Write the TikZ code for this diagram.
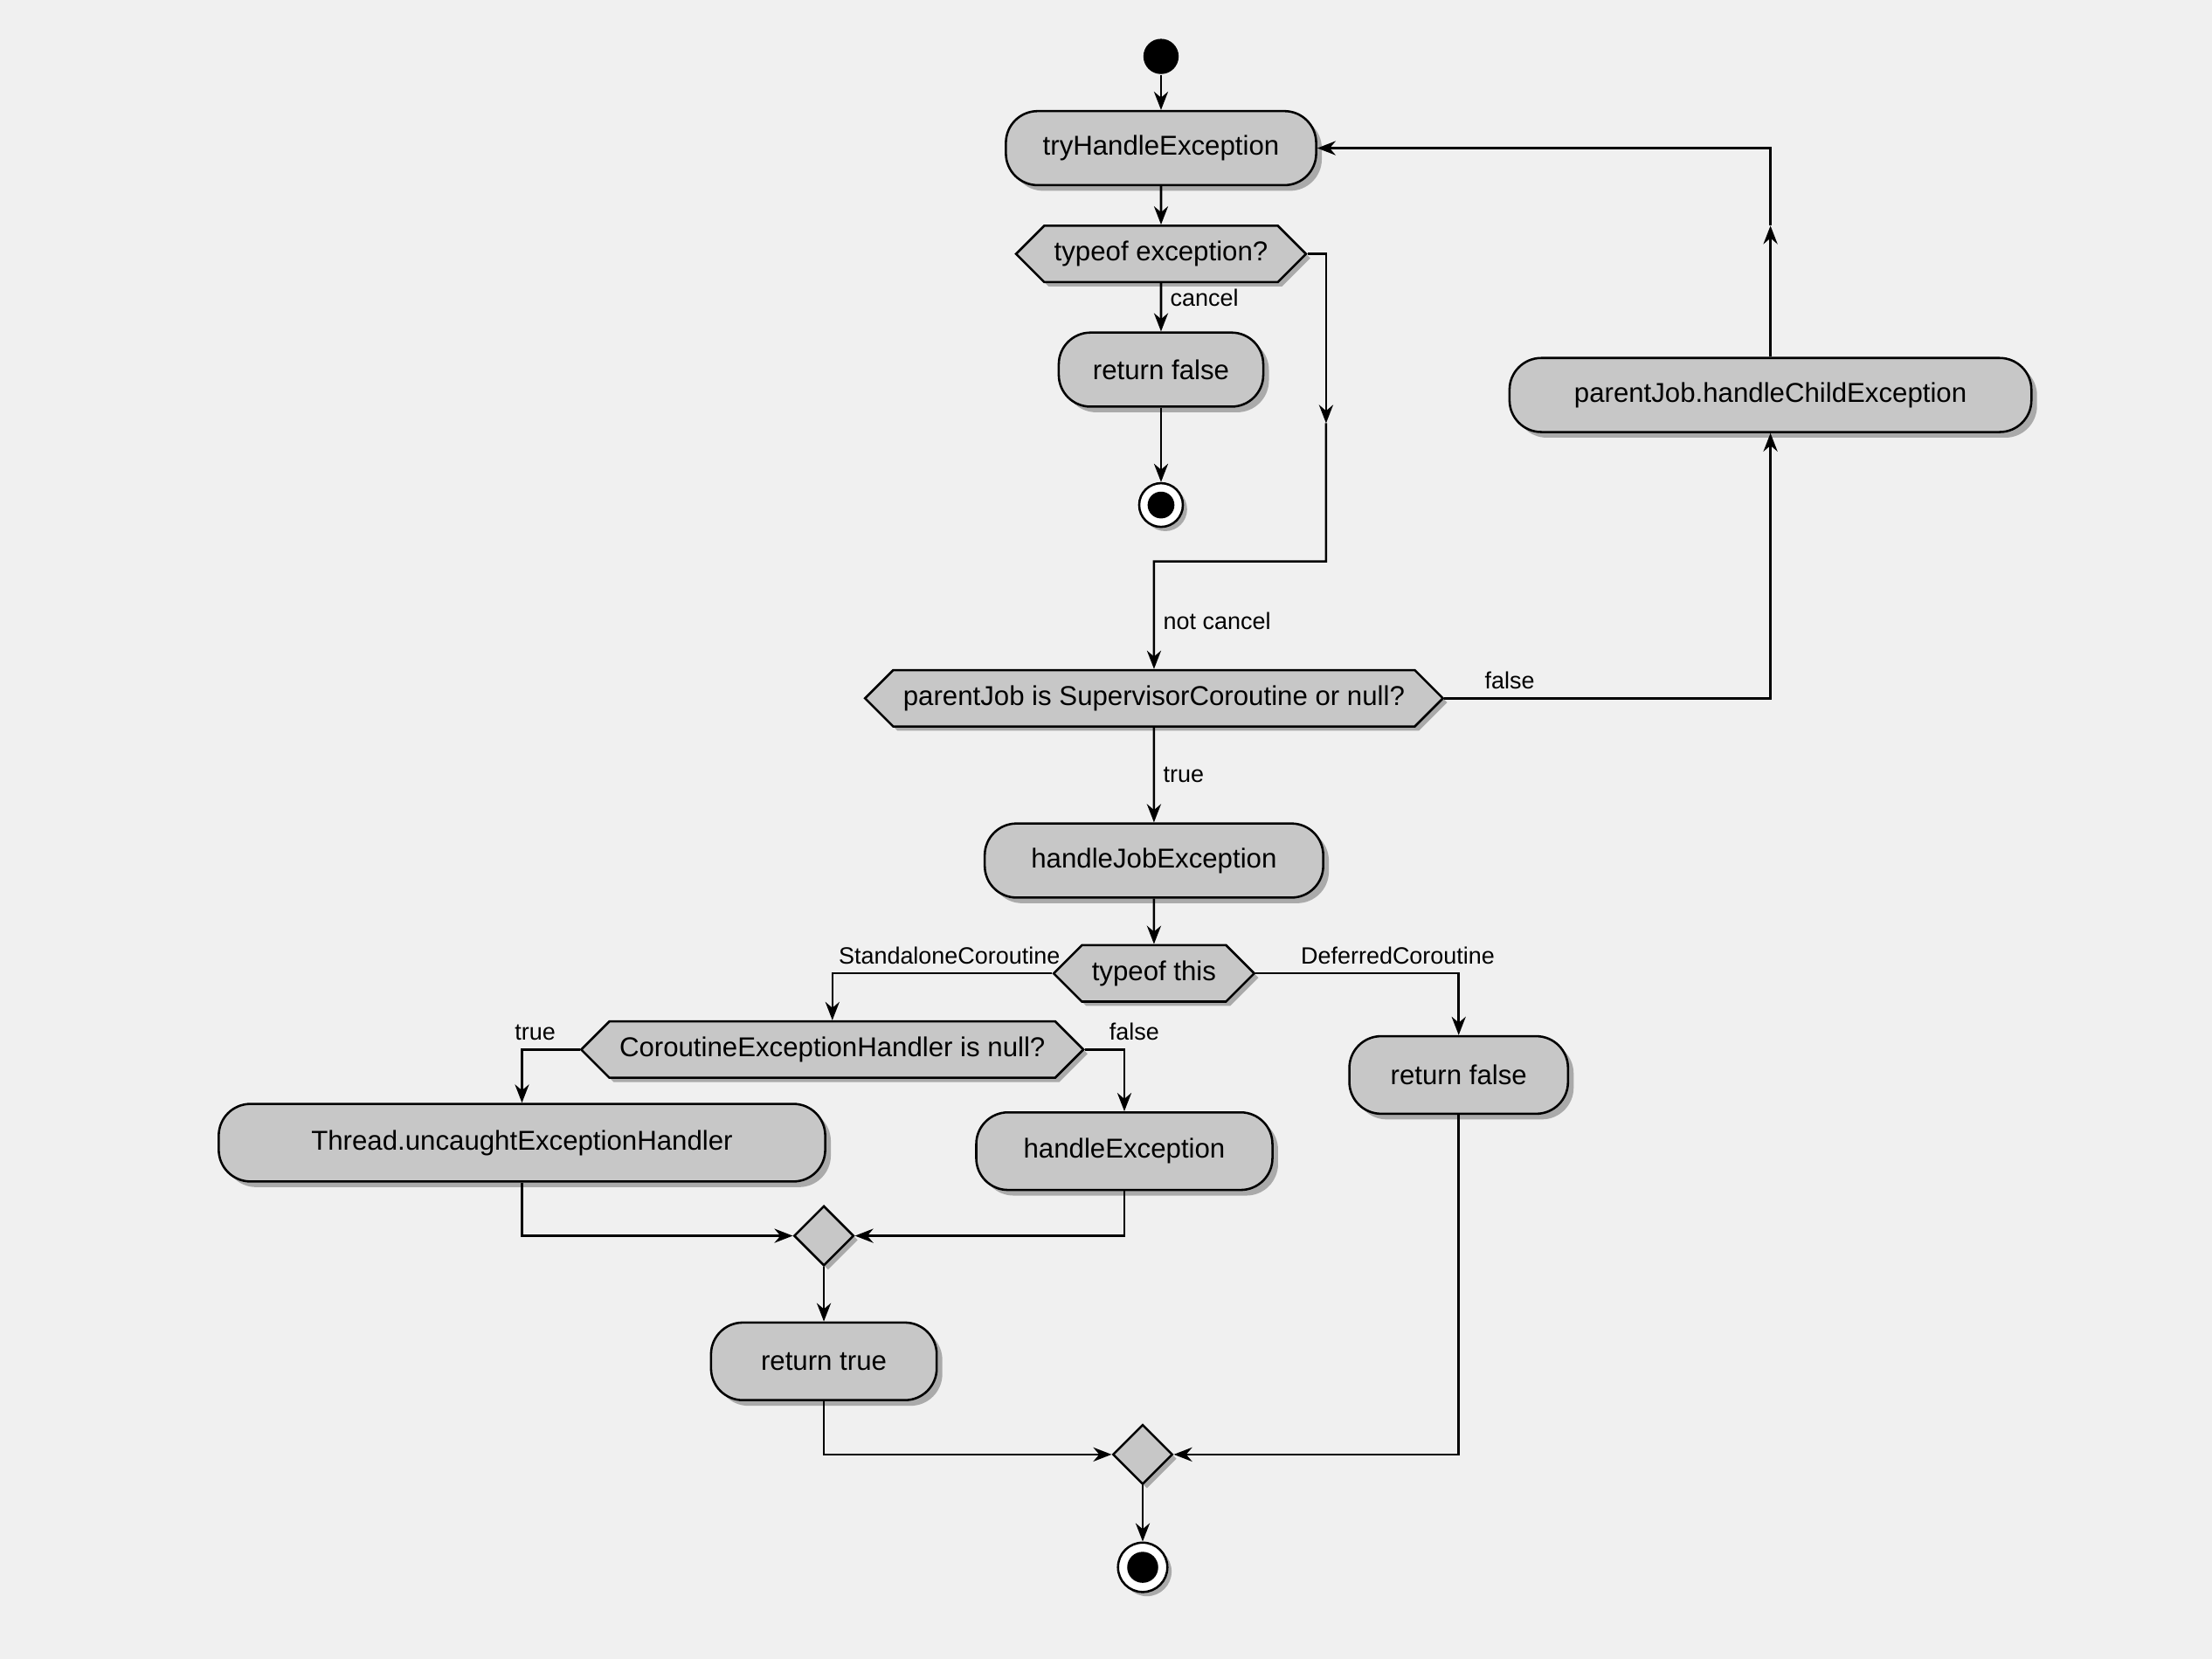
\documentclass[tikz,border=0pt]{standalone}
\usepackage{fontspec}
\setmainfont{Liberation Sans}
\usetikzlibrary{shapes.symbols,shapes.geometric,shadows,arrows.meta}
\begin{document}
\begin{tikzpicture}[x=0.02cm,y=-0.02cm,>={Stealth[length=2.6mm,width=2mm]},line width=0.9pt,
    font=\fontsize{11}{13}\selectfont]
    \tikzstyle{activity}=[draw,rounded corners=0.45cm,fill=black!22,
        drop shadow={shadow xshift=0.8mm,shadow yshift=-0.8mm,fill=black!60},
        minimum height=1.05cm,inner sep=2pt]
    \tikzstyle{branch}=[draw,signal,signal to=west and east,fill=black!22,
        drop shadow={shadow xshift=0.6mm,shadow yshift=-0.6mm,fill=black!60},
        minimum height=0.8cm,inner xsep=4pt]
    \tikzstyle{merge}=[draw,diamond,fill=black!22,minimum size=0.85cm,inner sep=0pt,
        drop shadow={shadow xshift=0.6mm,shadow yshift=-0.6mm,fill=black!60}]
    \tikzstyle{annot}=[font=\fontsize{9.5}{11}\selectfont]

    \fill[black!6] (0,0) rectangle (1568,1176);
    \useasboundingbox (0,0) rectangle (1568,1176);

    % start and end points
    \node[circle,fill=black,minimum size=0.5cm,inner sep=0pt] (start) at (823,40) {};
    \node[circle,draw,fill=white,minimum size=0.62cm,inner sep=0pt,
        drop shadow={shadow xshift=0.6mm,shadow yshift=-0.6mm,fill=black!60}] (end1) at (823,358) {};
    \fill (end1) circle (0.19cm);
    \node[circle,draw,fill=white,minimum size=0.7cm,inner sep=0pt,
        drop shadow={shadow xshift=0.6mm,shadow yshift=-0.6mm,fill=black!60}] (end2) at (810,1111) {};
    \fill (end2) circle (0.22cm);

    % activities
    \node[activity,minimum width=4.4cm] (try) at (823,105) {tryHandleException};
    \node[branch] (typeexc) at (823,180) {typeof exception?};
    \node[activity,minimum width=2.9cm] (ret1) at (823,262) {return false};
    \node[activity,minimum width=7.4cm] (child) at (1255,280) {parentJob.handleChildException};
    \node[branch] (parent) at (818,495) {parentJob is SupervisorCoroutine or null?};
    \node[activity,minimum width=4.8cm] (jobexc) at (818,610) {handleJobException};
    \node[branch] (typethis) at (818,690) {typeof this};
    \node[branch] (ceh) at (590,744) {CoroutineExceptionHandler is null?};
    \node[activity,minimum width=8.6cm,minimum height=1.1cm] (thread) at (370,810) {Thread.uncaughtExceptionHandler};
    \node[activity,minimum width=4.2cm,minimum height=1.1cm] (handle) at (797,816) {handleException};
    \node[activity,minimum width=3.1cm,minimum height=1.1cm] (ret2) at (1034,762) {return false};
    \node[activity,minimum width=3.2cm,minimum height=1.1cm] (rettrue) at (584,965) {return true};
    \node[merge] (m1) at (584,876) {};
    \node[merge] (m2) at (810,1031) {};

    \coordinate (c1) at (940,300);
    \coordinate (c2) at (1255,160);

    % connectors
    \draw[->] (start) -- (try);
    \draw[->] (try) -- (typeexc);
    \draw[->] (typeexc) -- node[annot,right,pos=0.3] {cancel} (ret1);
    \draw[->] (ret1) -- (end1);
    \draw[->] (typeexc.east) -| (c1);
    \draw[->] (c1) |- (818,398) -- node[annot,right,pos=0.55] {not cancel} (parent);
    \draw[->] (parent.east) -| node[annot,above,pos=0.1] {false} (child);
    \draw[->] (child) -- (c2);
    \draw[->] (c2) |- (try);
    \draw[->] (parent) -- node[annot,right] {true} (jobexc);
    \draw[->] (jobexc) -- (typethis);
    \draw[->] (typethis.west) -| node[annot,above,pos=0.2,xshift=-6pt] {StandaloneCoroutine} (ceh);
    \draw[->] (typethis.east) -| node[annot,above,pos=0.35] {DeferredCoroutine} (ret2);
    \draw[->] (ceh.west) -| node[annot,above,pos=0.3,xshift=-4pt] {true} (thread);
    \draw[->] (ceh.east) -| node[annot,above,pos=0.5,xshift=4pt] {false} (handle);
    \draw[->] (thread) |- (m1);
    \draw[->] (handle) |- (m1);
    \draw[->] (m1) -- (rettrue);
    \draw[->] (rettrue) |- (m2);
    \draw[->] (ret2) |- (m2);
    \draw[->] (m2) -- (end2);
\end{tikzpicture}
\end{document}
